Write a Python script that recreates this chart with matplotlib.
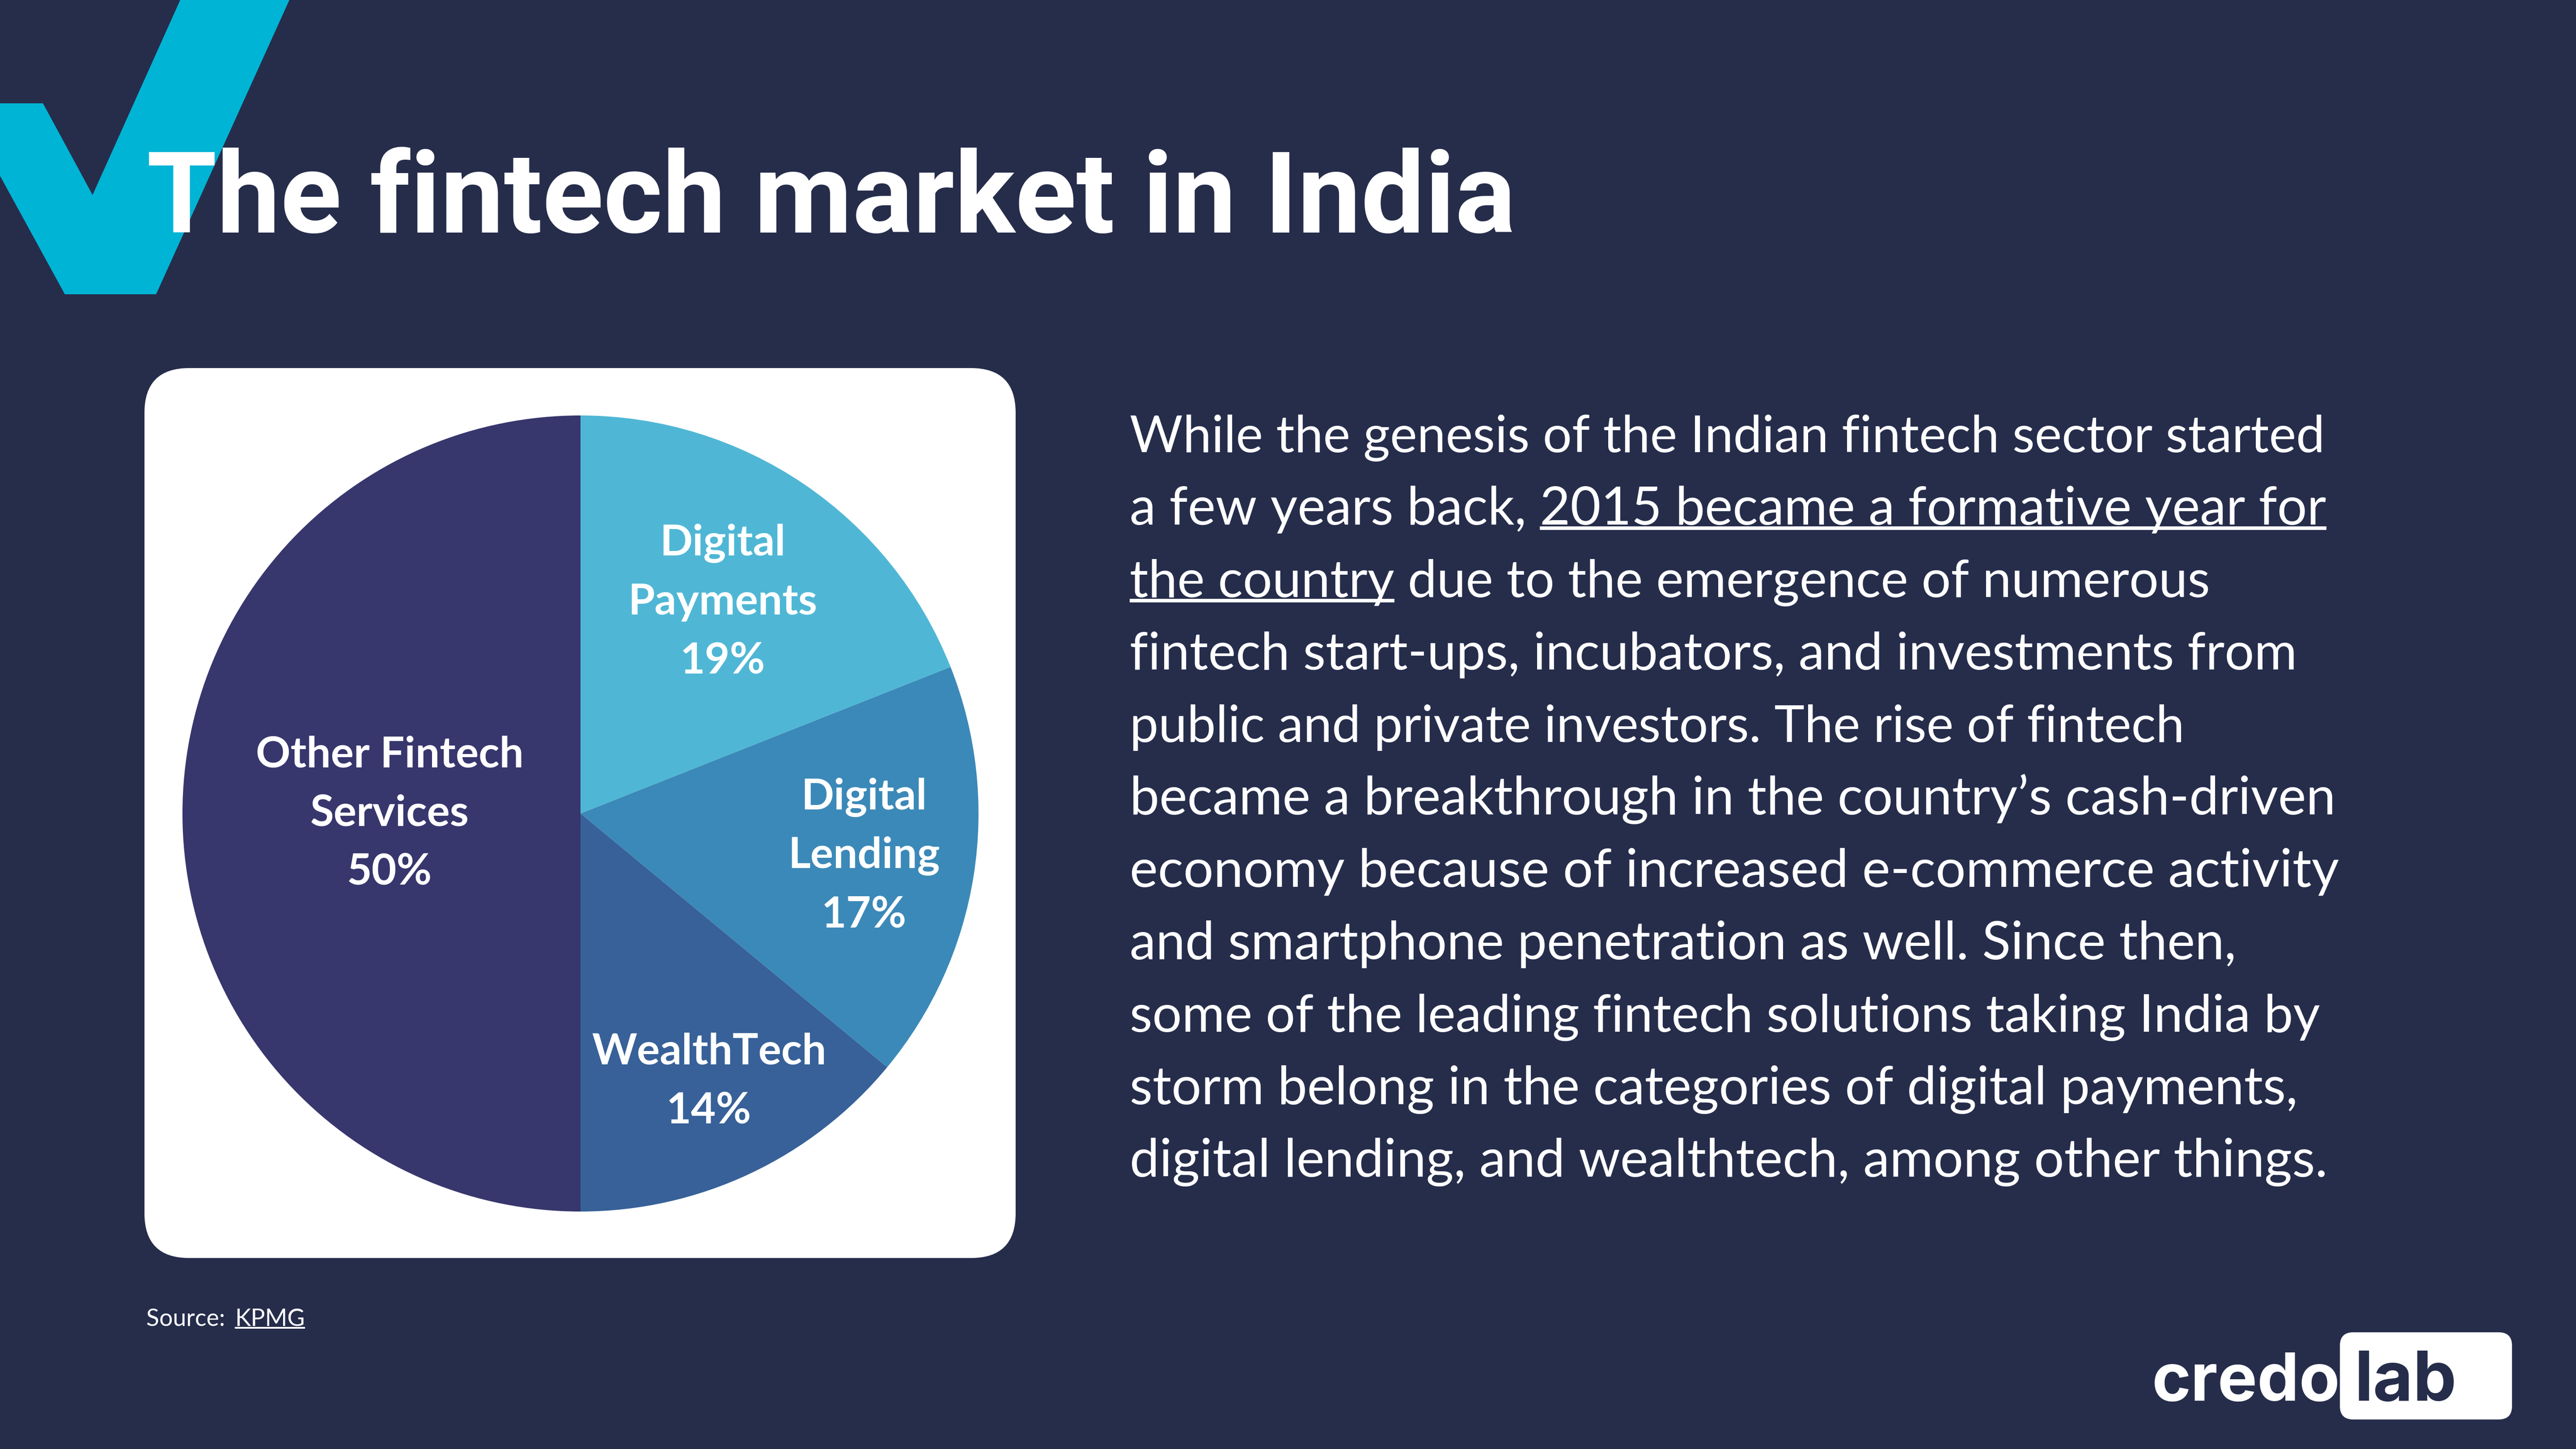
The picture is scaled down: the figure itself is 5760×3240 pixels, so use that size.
# credolab slide: fintech market in India
import matplotlib
matplotlib.use('Agg')
import matplotlib.pyplot as plt
from matplotlib.patches import FancyBboxPatch, Polygon

categories = ['Digital\nPayments', 'Digital\nLending', 'WealthTech', 'Other Fintech\nServices']
shares = [19, 17, 14, 50]
slice_colors = ['#4FB7D5', '#3B89B8', '#376198', '#37366D']

title = 'The fintech market in India'
source_label = 'Source: '
source_link = 'KPMG'

# (text, underlined) pieces per line
body_lines = [
    [('While the genesis of the Indian fintech sector started', False)],
    [('a few years back, ', False), ('2015 became a formative year for', True)],
    [('the country', True), (' due to the emergence of numerous', False)],
    [('fintech start-ups, incubators, and investments from', False)],
    [('public and private investors. The rise of fintech', False)],
    [('became a breakthrough in the country’s cash-driven', False)],
    [('economy because of increased e-commerce activity', False)],
    [('and smartphone penetration as well. Since then,', False)],
    [('some of the leading fintech solutions taking India by', False)],
    [('storm belong in the categories of digital payments,', False)],
    [('digital lending, and wealthtech, among other things.', False)],
]

BG = '#262D4B'
CYAN = '#00B4D5'
W, H = 5760, 3240
DPI = 200
FONT = 'Lato'

# right edge of each body line in the slide, px
body_right = [5198, 5203, 4940, 5138, 4885, 5223, 5230, 5002, 5186, 5138, 5205]

fig = plt.figure(figsize=(W / DPI, H / DPI), dpi=DPI, facecolor=BG)

back = fig.add_axes([0, 0, 1, 1], zorder=0)
back.set_xlim(0, W)
back.set_ylim(H, 0)
back.axis('off')

# check mark and white card behind the pie
back.add_patch(Polygon([(403, 0), (647, 0), (349, 658), (145, 658), (0, 393), (0, 231), (96, 231), (207, 436)],
                       closed=True, fc=CYAN, ec='none'))
back.add_patch(FancyBboxPatch((323 + 100, 823 + 100), 1948 - 200, 1990 - 200,
                              boxstyle='round,pad=100,rounding_size=100', fc='white', ec='none'))

# pie
cx, cy, r = 1298, 1819, 890
pie_ax = fig.add_axes([(cx - r) / W, (H - cy - r) / H, 2 * r / W, 2 * r / H], zorder=1)
pie_ax.pie(shares, colors=slice_colors, startangle=90, counterclock=False, radius=1,
           wedgeprops={'linewidth': 0})
pie_ax.set_xlim(-1, 1)
pie_ax.set_ylim(-1, 1)

over = fig.add_axes([0, 0, 1, 1], zorder=2)
over.set_xlim(0, W)
over.set_ylim(H, 0)
over.axis('off')
over.patch.set_alpha(0)

renderer = fig.canvas.get_renderer()


def width_of(t):
    return t.get_window_extent(renderer).width


def fit_text(x, y, s, target, family=FONT, **kw):
    t = over.text(x, y, s, family=family, color=kw.pop('color', 'white'), va='baseline', fontsize=40, **kw)
    t.set_fontsize(40 * target / width_of(t))
    return t


# title
fit_text(328, 520, title, 3062, family='Roboto', fontweight='bold')

# slice labels, one text per line
label_size = 34.6
label_spots = [(1616, 1242), (1932, 1810), (1585, 2380), (871, 1715)]
line_gap = 131.5
for name, share, (lx, ly) in zip(categories, shares, label_spots):
    rows = name.split('\n') + [f'{share}%']
    for i, row in enumerate(rows):
        over.text(lx, ly + i * line_gap, row, family=FONT, fontweight='bold', fontsize=label_size,
                  color='white', ha='center', va='baseline')

# body copy with underlined runs
base_y = 1011
body_gap = 162
left_x = 2526
for i, parts in enumerate(body_lines):
    y = base_y + i * body_gap
    full = ''.join(s for s, _ in parts).replace(' ', '\u00a0')
    probe = over.text(left_x, y, full, family=FONT, fontsize=40)
    body_size = 40 * (body_right[i] - left_x) / width_of(probe)
    probe.remove()
    x = left_x
    for s, under in parts:
        over.text(x, y, s, family=FONT, fontsize=body_size, color='white', va='baseline')
        # spaces at the ends are not in the ink box, so measure with no-break spaces
        probe = over.text(x, y, s.replace(' ', '\u00a0'), family=FONT, fontsize=body_size)
        w = width_of(probe)
        probe.remove()
        if under:
            over.plot([x, x + w], [y + 8, y + 8], color='white', lw=8 * 72 / DPI, solid_capstyle='butt')
        x += w

# source line
s1 = over.text(327, 2965, source_label.replace(' ', '\u00a0'), family=FONT, fontsize=19.3, color='white', va='baseline')
s2 = over.text(525, 2965, source_link, family=FONT, fontsize=19.3, color='white', va='baseline')
over.plot([525, 525 + width_of(s2)], [2969, 2969], color='white', lw=4 * 72 / DPI, solid_capstyle='butt')

# logo
over.add_patch(FancyBboxPatch((5232 + 30, 2979 + 30), 385 - 60, 195 - 60,
                              boxstyle='round,pad=30,rounding_size=30', fc='white', ec='none'))
fit_text(4811, 3132, 'credo', 421, family='Inter', fontweight='bold')
fit_text(5264, 3132, 'lab', 229, family='Inter', fontweight='bold', color=BG)

fig.savefig('out.png', dpi=DPI, facecolor=BG)
